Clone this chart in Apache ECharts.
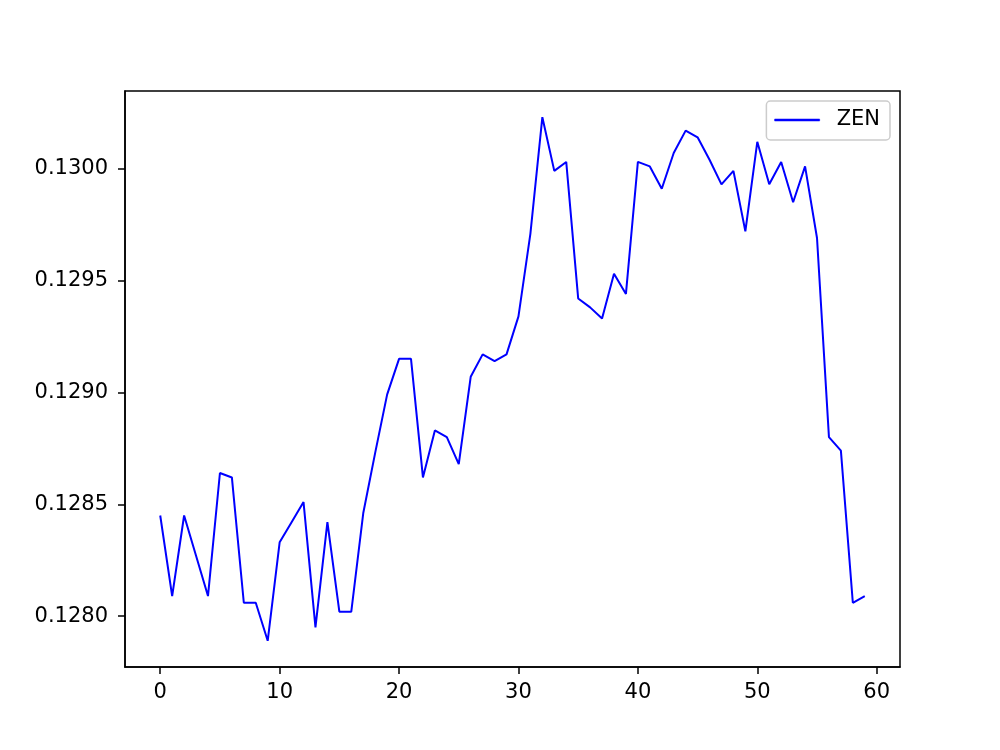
<!DOCTYPE html>
<html>
<head>
<meta charset="utf-8">
<script src="https://cdn.jsdelivr.net/npm/echarts@6/dist/echarts.min.js"></script>
<style>
html,body{margin:0;padding:0;background:#fff;}
#chart{width:1000px;height:750px;}
</style>
</head>
<body>
<div id="chart"></div>
<script>
var seriesName = 'ZEN';
var zenValues = [
  0.12845, 0.12809, 0.12845, 0.12827, 0.12809, 0.12864, 0.12862, 0.12806, 0.12806, 0.12789,
  0.12833, 0.12842, 0.12851, 0.12795, 0.12842, 0.12802, 0.12802, 0.12846, 0.12873, 0.12899,
  0.12915, 0.12915, 0.12862, 0.12883, 0.12880, 0.12868, 0.12907, 0.12917, 0.12914, 0.12917,
  0.12934, 0.12971, 0.13023, 0.12999, 0.13003, 0.12942, 0.12938, 0.12933, 0.12953, 0.12944,
  0.13003, 0.13001, 0.12991, 0.13007, 0.13017, 0.13014, 0.13004, 0.12993, 0.12999, 0.12972,
  0.13012, 0.12993, 0.13003, 0.12985, 0.13001, 0.12969, 0.12880, 0.12874, 0.12806, 0.12809
];
var xTicks = [0, 10, 20, 30, 40, 50, 60];
var yTicks = [0.1280, 0.1285, 0.1290, 0.1295, 0.1300];

var points = zenValues.map(function (v, i) { return [i, v]; });

var chart = echarts.init(document.getElementById('chart'), null, {renderer: 'canvas'});
var font = 'DejaVu Sans';
chart.setOption({
  animation: false,
  backgroundColor: '#fff',
  grid: {
    left: 125, right: 100, top: 91, bottom: 83,
    show: true, borderColor: '#000', borderWidth: 1.5, backgroundColor: 'transparent'
  },
  legend: {
    data: [seriesName],
    right: 110, top: 101,
    padding: [8, 10, 9, 8],
    icon: 'path://M0,0H45V2H0Z',
    itemWidth: 45, itemHeight: 2,
    itemStyle: {color: '#0000ff', borderWidth: 0.5, borderColor: '#0000ff'},
    borderColor: '#cccccc', borderWidth: 1.5, borderRadius: 4,
    backgroundColor: '#fff',
    textStyle: {fontFamily: font, fontSize: 21, color: '#000', padding: [0, 0, 0, 12], lineHeight: 22}
  },
  xAxis: {
    type: 'value', min: -2.95, max: 61.95,
    axisLine: {show: true, onZero: false, lineStyle: {color: '#000', width: 1.5}},
    axisTick: {show: true, length: 7, lineStyle: {color: '#000', width: 1.5}, customValues: xTicks},
    axisLabel: {fontFamily: font, fontSize: 21, color: '#000', margin: 15, customValues: xTicks},
    splitLine: {show: false}
  },
  yAxis: {
    type: 'value', min: 0.127773, max: 0.130347,
    axisLine: {show: true, onZero: false, lineStyle: {color: '#000', width: 1.5}},
    axisTick: {show: true, length: 7, lineStyle: {color: '#000', width: 1.5}, customValues: yTicks},
    axisLabel: {fontFamily: font, fontSize: 21, color: '#000', margin: 17, customValues: yTicks,
      formatter: function (v) { return v.toFixed(4); }},
    splitLine: {show: false}
  },
  series: [{
    name: seriesName,
    type: 'line',
    data: points,
    symbol: 'none',
    lineStyle: {color: '#0000ff', width: 2},
    itemStyle: {color: '#0000ff'}
  }]
});
</script>
</body>
</html>
